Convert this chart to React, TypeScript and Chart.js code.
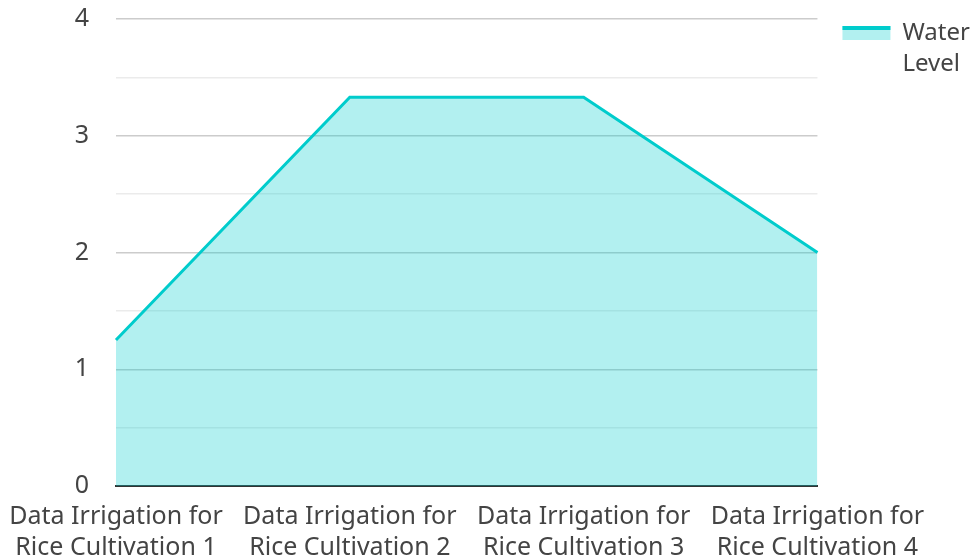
import React, { useEffect, useRef } from "react";
import { Chart, registerables } from "chart.js";

Chart.register(...registerables);

const categories: string[][] = [
  ["Data Irrigation for", "Rice Cultivation 1"],
  ["Data Irrigation for", "Rice Cultivation 2"],
  ["Data Irrigation for", "Rice Cultivation 3"],
  ["Data Irrigation for", "Rice Cultivation 4"],
];
const waterLevel: number[] = [1.25, 3.33, 3.33, 2.0];
const legendText: string[] = ["Water", "Level"];

const LINE = "rgb(0,204,204)";
const FILL = "rgba(0,204,204,0.3)";
const FONT = "'Noto Sans', sans-serif";

const LEGEND_EXTRA = 17;
const LEGEND_SHIFT_X = 15;
const LEGEND_SHIFT_Y = 11;

const legendTweakPlugin = {
  id: "legendTweak",
  beforeInit(chart: any) {
    const lg = chart.legend;
    if (!lg) return;
    const fit = lg.fit;
    lg.fit = function () {
      fit.call(this);
      this.width += LEGEND_EXTRA;
    };
  },
  afterLayout(chart: any) {
    const lg = chart.legend;
    if (!lg) return;
    lg.left += LEGEND_SHIFT_X;
    lg.width -= LEGEND_SHIFT_X;
    lg.top += LEGEND_SHIFT_Y;
    lg.bottom += LEGEND_SHIFT_Y;
  },
  afterDraw(chart: any) {
    const lg = chart.legend;
    if (!lg || !lg.legendHitBoxes || !lg.legendHitBoxes.length) return;
    const hb = lg.legendHitBoxes[0];
    const ctx = chart.ctx;
    const fontSize = 24;
    const boxH = 14;
    const y = hb.top + Math.max((fontSize - boxH) / 2, 0);
    ctx.save();
    ctx.fillStyle = LINE;
    ctx.fillRect(hb.left, y, 48, 4);
    ctx.restore();
  },
};

export default function App() {
  const ref = useRef<HTMLCanvasElement | null>(null);
  useEffect(() => {
    if (!ref.current) return;
    const chart = new Chart(ref.current, {
      type: "line",
      data: {
        labels: categories,
        datasets: [
          {
            label: "Water Level",
            data: waterLevel,
            borderColor: LINE,
            backgroundColor: FILL,
            borderWidth: 3,
            fill: "origin",
            pointRadius: 0,
            tension: 0,
          },
        ],
      },
      options: {
        animation: false,
        responsive: true,
        maintainAspectRatio: false,
        layout: { padding: 0 },
        plugins: {
          tooltip: { enabled: false },
          legend: {
            position: "right",
            align: "start",
            labels: {
              boxWidth: 48,
              boxHeight: 14,
              color: "#444",
              font: { family: FONT, size: 24, lineHeight: 1.3 },
              generateLabels: (c: any) => [
                {
                  text: legendText,
                  fillStyle: FILL,
                  strokeStyle: FILL,
                  lineWidth: 0,
                  hidden: false,
                  datasetIndex: 0,
                  fontColor: "#444",
                },
              ],
            },
          },
        },
        scales: {
          x: {
            offset: false,
            grid: { display: false, drawTicks: false },
            border: { display: true, color: "#333", width: 2 },
            ticks: {
              color: "#444",
              maxRotation: 0,
              autoSkip: false,
              padding: 15,
              font: { family: FONT, size: 25, lineHeight: 1.25 },
            },
            afterFit: (s: any) => {
              s.paddingLeft = 116;
              s.paddingRight = 100;
              s.height = 72;
            },
          },
          y: {
            min: 0,
            max: 4,
            grid: {
              drawTicks: false,
              lineWidth: 1.5,
              color: (ctx: any) =>
                ctx.tick && Math.abs(ctx.tick.value % 1) < 1e-6 ? "#cccccc" : "#ebebeb",
            },
            border: { display: false },
            ticks: {
              stepSize: 0.5,
              padding: 27,
              color: "#444",
              font: { family: FONT, size: 25, lineHeight: 1.25 },
              callback: (v: any) => (Math.abs(Number(v) % 1) < 1e-6 ? String(v) : ""),
            },
            afterFit: (s: any) => {
              s.paddingTop = 19;
              s.paddingBottom = 0;
            },
          },
        },
      },
      plugins: [legendTweakPlugin],
    });
    return () => chart.destroy();
  }, []);
  return (
    <div style={{ position: "fixed", left: 0, top: 0, width: 972, height: 558 }}>
      <canvas ref={ref} />
    </div>
  );
}
